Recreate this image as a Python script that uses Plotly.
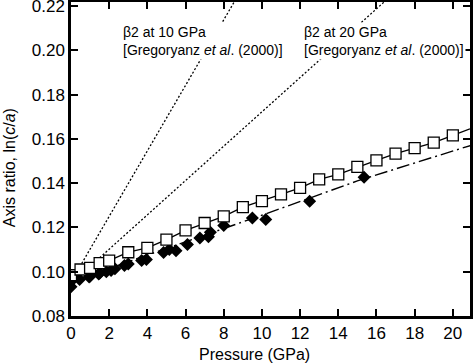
import plotly.graph_objects as go

# Open squares (P in GPa, axis ratio ln(c/a))
sq_p = [0, 0.5, 1, 1.5, 2, 3, 4, 5, 6, 7, 8, 9, 10, 11, 12, 13, 14, 15, 16, 17, 18, 19, 20]
sq_v = [0.0984, 0.1010, 0.1017, 0.1039, 0.1050, 0.1088, 0.1108, 0.1145, 0.1187, 0.1220,
        0.1250, 0.1292, 0.1319, 0.1349, 0.1379, 0.1417, 0.1440, 0.1473, 0.1503, 0.1533,
        0.1558, 0.1583, 0.1616]

# Solid curve through the squares
fit_p = sq_p + [20.9]
fit_v = sq_v + [0.1645]

# Filled diamonds
dm_p = [0, 0.05, 0.45, 0.95, 1.0, 1.45, 1.5, 1.85, 2.1, 2.3, 2.8, 3.0, 3.7, 3.95,
        4.85, 5.15, 5.5, 6.1, 6.75, 7.2, 7.3, 8.0, 9.5, 10.2, 12.5, 15.35]
dm_v = [0.0932, 0.0960, 0.0965, 0.0976, 0.0980, 0.0990, 0.0993, 0.1000, 0.1006, 0.1013,
        0.1028, 0.1035, 0.1051, 0.1055, 0.1087, 0.1100, 0.1095, 0.1123, 0.1152, 0.1158,
        0.1178, 0.1209, 0.1242, 0.1236, 0.1318, 0.1427]

# Dash-dot curve
dd_p = [0, 5, 10, 15, 21]
dd_v = [0.0955, 0.1105, 0.1255, 0.1410, 0.1572]

# Dotted lines: beta2 at 10 GPa and at 20 GPa (Gregoryanz et al. 2000)
b10_p = [0.56, 8.6]
b10_v = [0.1037, 0.2226]
b20_p = [1.5, 16.4]
b20_v = [0.1063, 0.2218]

x_ticks = [0, 2, 4, 6, 8, 10, 12, 14, 16, 18, 20]
y_ticks = [0.08, 0.10, 0.12, 0.14, 0.16, 0.18, 0.20, 0.22]

FONT = "Arial, Liberation Sans, Helvetica, sans-serif"

fig = go.Figure()
fig.add_trace(go.Scatter(x=b10_p, y=b10_v, mode="lines",
                         line=dict(color="black", width=1.3, dash="2px,2px")))
fig.add_trace(go.Scatter(x=b20_p, y=b20_v, mode="lines",
                         line=dict(color="black", width=1.3, dash="2px,2px")))
fig.add_trace(go.Scatter(x=dd_p, y=dd_v, mode="lines",
                         line=dict(color="black", width=1.4, dash="13px,4px,2px,4px")))
fig.add_trace(go.Scatter(x=fit_p, y=fit_v, mode="lines",
                         line=dict(color="black", width=1.3)))
fig.add_trace(go.Scatter(x=dm_p, y=dm_v, mode="markers",
                         marker=dict(symbol="diamond", size=10, color="black",
                                     line=dict(width=0))))
fig.add_trace(go.Scatter(x=sq_p, y=sq_v, mode="markers",
                         marker=dict(symbol="square", size=11, color="white",
                                     line=dict(color="black", width=1.3))))

ann_font = dict(family=FONT, size=14, color="black")
fig.add_annotation(x=2.6, y=0.2040, xref="x", yref="y", xanchor="left", yanchor="middle",
                   align="left", showarrow=False, bgcolor="white", borderpad=1,
                   text="β2 at 10 GPa<br>[Gregoryanz <i>et al</i>. (2000)]", font=ann_font)
fig.add_annotation(x=12.1, y=0.2040, xref="x", yref="y", xanchor="left", yanchor="middle",
                   align="left", showarrow=False, bgcolor="white", borderpad=1,
                   text="β2 at 20 GPa<br>[Gregoryanz <i>et al</i>. (2000)]", font=ann_font)

fig.add_annotation(x=0.46, y=-0.122, xref="paper", yref="paper", xanchor="center",
                   yanchor="middle", showarrow=False, text="Pressure (GPa)",
                   font=dict(family=FONT, size=16, color="black"))
fig.add_annotation(x=-0.155, y=0.471, xref="paper", yref="paper", xanchor="center",
                   yanchor="middle", showarrow=False, textangle=-90,
                   text="Axis ratio, ln(<i>c</i>/<i>a</i>)",
                   font=dict(family=FONT, size=16, color="black"))

axis_common = dict(showgrid=False, zeroline=False, showline=True, linecolor="black",
                   linewidth=2.5, mirror="ticks", ticks="inside", ticklen=7,
                   tickwidth=2, tickcolor="black", automargin=False,
                   ticklabeloverflow="allow",
                   tickfont=dict(family=FONT, size=17, color="black"))

fig.update_xaxes(range=[0, 20.9], tickvals=x_ticks, ticktext=[str(v) for v in x_ticks],
                 **axis_common)
fig.update_yaxes(range=[0.08, 0.2218], tickvals=y_ticks,
                 ticktext=[f"{v:.2f}" for v in y_ticks], **axis_common)

fig.update_layout(width=474, height=364, showlegend=False,
                  margin=dict(l=71, r=4, t=2, b=48, autoexpand=False),
                  plot_bgcolor="white", paper_bgcolor="white",
                  font=dict(family=FONT, color="black"))

fig.write_html("out.html", config={"displayModeBar": False},
               post_script="document.body.style.margin='0';document.body.style.padding='0';")
